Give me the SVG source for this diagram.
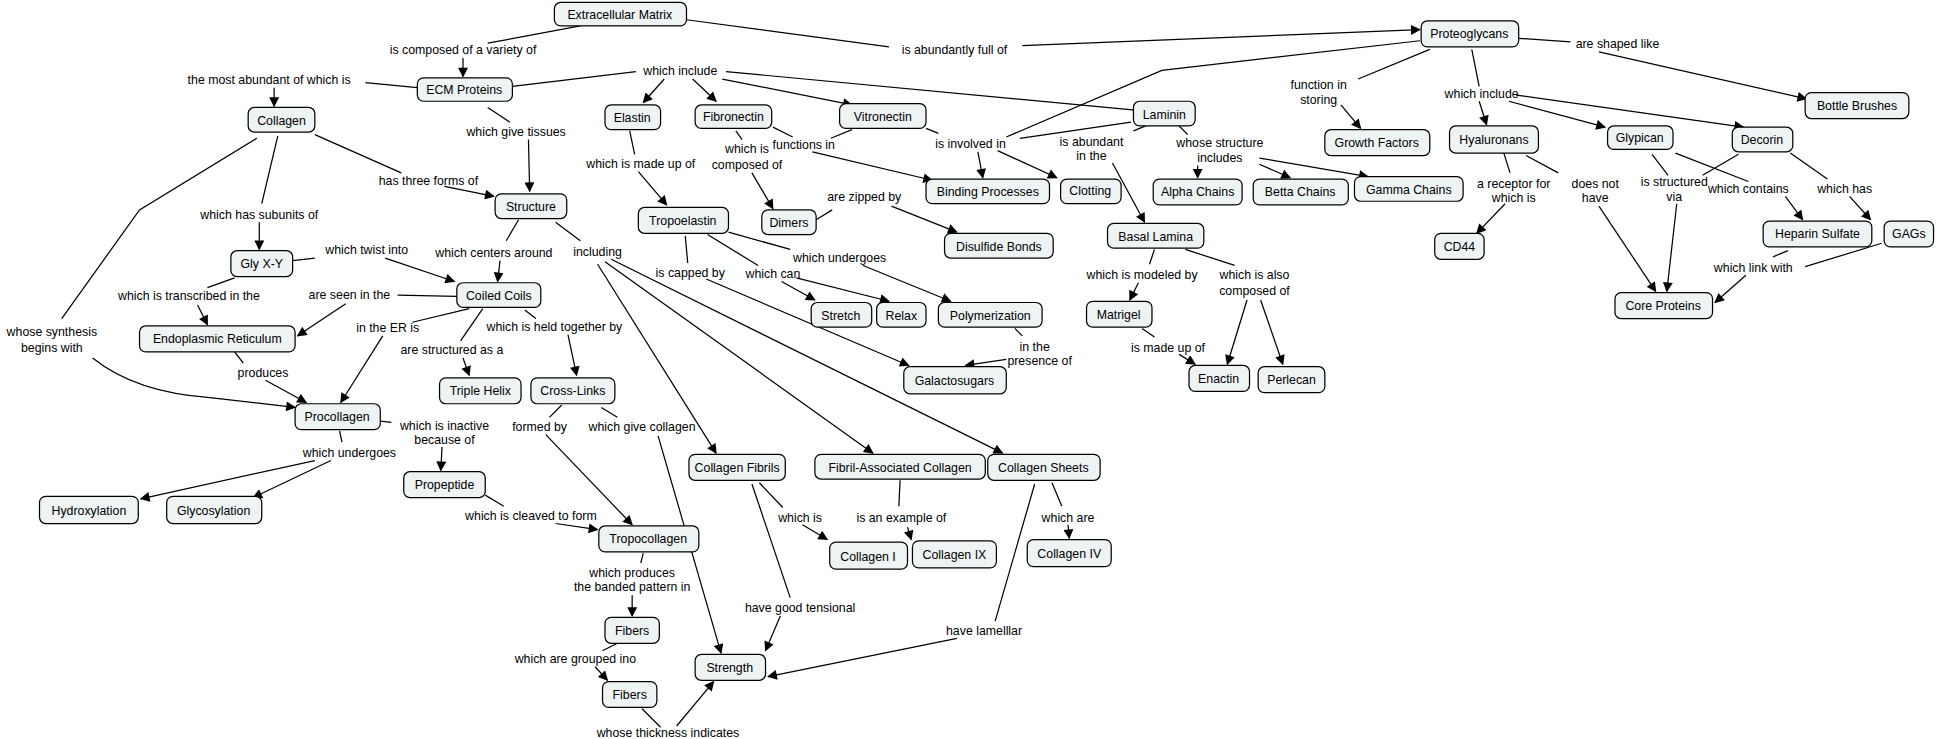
<svg xmlns="http://www.w3.org/2000/svg" width="1936" height="739" viewBox="0 0 1936 739">
<defs>
<marker id="ar" viewBox="0 0 10 10" refX="9" refY="5" markerWidth="10" markerHeight="8" markerUnits="userSpaceOnUse" orient="auto"><path d="M0,0 L10,5 L0,10 z" fill="#000"/></marker>
<style>
.n rect{fill:#eef3f4;stroke:#000;stroke-width:1}
text{font-family:"Liberation Sans",Arial,sans-serif;font-size:10px;fill:#000;text-anchor:middle}
#links line,#links polyline,#links path{stroke:#000;stroke-width:1;fill:none}
#links .a{marker-end:url(#ar)}
</style>
</defs>
<rect width="1936" height="739" fill="#fff"/>
<g transform="scale(1.2347)">
<g id="links">
<line x1="470" y1="21" x2="395" y2="35"/><line class="a" x1="375" y1="47" x2="375" y2="62"/>
<line x1="556" y1="16" x2="720" y2="38"/><line class="a" x1="828" y1="37" x2="1150" y2="24"/>
<line x1="338" y1="71" x2="296" y2="67"/><line class="a" x1="222" y1="71" x2="222" y2="86"/>
<line x1="415" y1="70" x2="515" y2="58"/><line class="a" x1="538" y1="64" x2="521" y2="83"/><line class="a" x1="561" y1="64" x2="580" y2="82"/><line class="a" x1="585" y1="64" x2="690" y2="85"/><line class="a" x1="588" y1="58" x2="928" y2="90"/>
<line x1="395" y1="87" x2="413" y2="99"/><line class="a" x1="428" y1="113" x2="429" y2="155"/>
<line x1="255" y1="109" x2="325" y2="140"/><line class="a" x1="360" y1="151" x2="400" y2="159"/>
<line x1="225" y1="110" x2="212" y2="165"/><line class="a" x1="210" y1="180" x2="210" y2="202"/>
<polyline points="208,112 113,170 50,258"/><path class="a" d="M75,290 Q110,318 170,322 L239,330"/>
<line x1="237" y1="211" x2="255" y2="209"/><line class="a" x1="312" y1="209" x2="368" y2="228"/>
<line x1="190" y1="225" x2="168" y2="233"/><line class="a" x1="160" y1="247" x2="168" y2="263"/>
<line x1="370" y1="240" x2="322" y2="239"/><line class="a" x1="280" y1="246" x2="241" y2="272"/>
<line x1="190" y1="285" x2="197" y2="294"/><line class="a" x1="215" y1="308" x2="248" y2="326"/>
<line x1="380" y1="250" x2="334" y2="261"/><line class="a" x1="310" y1="272" x2="276" y2="326"/>
<line x1="391" y1="250" x2="373" y2="276"/><line class="a" x1="375" y1="290" x2="380" y2="304"/>
<line x1="425" y1="251" x2="434" y2="258"/><line class="a" x1="460" y1="271" x2="467" y2="304"/>
<line x1="420" y1="178" x2="410" y2="195"/><line class="a" x1="405" y1="211" x2="403" y2="228"/>
<line x1="450" y1="180" x2="470" y2="195"/><line class="a" x1="484" y1="214" x2="580" y2="367"/><line class="a" x1="490" y1="212" x2="707" y2="367"/><line class="a" x1="495" y1="210" x2="812" y2="367"/>
<line x1="510" y1="106" x2="514" y2="125"/><line class="a" x1="517" y1="139" x2="540" y2="166"/>
<line x1="596" y1="106" x2="601" y2="113"/><line class="a" x1="609" y1="140" x2="626" y2="169"/>
<line x1="626" y1="103" x2="642" y2="111"/><line x1="690" y1="105" x2="673" y2="112"/><line class="a" x1="658" y1="123" x2="755" y2="146"/>
<line x1="750" y1="104" x2="760" y2="108"/><line class="a" x1="792" y1="123" x2="796" y2="144"/><line class="a" x1="808" y1="122" x2="856" y2="144"/>
<line x1="916" y1="99" x2="826" y2="112"/><polyline points="1150,33 941,57 815,111"/>
<line x1="928" y1="102" x2="918" y2="106"/><line class="a" x1="901" y1="132" x2="927" y2="180"/>
<line x1="955" y1="102" x2="962" y2="109"/><line class="a" x1="970" y1="134" x2="970" y2="144"/><line class="a" x1="1020" y1="133" x2="1045" y2="144"/><line class="a" x1="1020" y1="128" x2="1108" y2="143"/>
<line x1="661" y1="178" x2="674" y2="170"/><line class="a" x1="722" y1="167" x2="775" y2="188"/>
<line x1="590" y1="188" x2="640" y2="202"/><line class="a" x1="699" y1="215" x2="770" y2="244"/>
<line x1="555" y1="191" x2="557" y2="213"/><line class="a" x1="572" y1="226" x2="736" y2="296"/>
<line x1="573" y1="190" x2="614" y2="215"/><line class="a" x1="633" y1="228" x2="660" y2="243"/><line class="a" x1="645" y1="225" x2="720" y2="244"/>
<line x1="822" y1="266" x2="828" y2="272"/><line class="a" x1="815" y1="291" x2="782" y2="296"/>
<line x1="935" y1="202" x2="931" y2="214"/><line class="a" x1="922" y1="229" x2="915" y2="243"/>
<line x1="960" y1="202" x2="1000" y2="215"/><line class="a" x1="1010" y1="243" x2="994" y2="295"/><line class="a" x1="1021" y1="243" x2="1039" y2="295"/>
<line x1="925" y1="266" x2="935" y2="273"/><line class="a" x1="955" y1="287" x2="968" y2="295"/>
<line x1="1158" y1="40" x2="1100" y2="64"/><line class="a" x1="1086" y1="85" x2="1102" y2="104"/>
<line x1="1192" y1="40" x2="1198" y2="70"/><line class="a" x1="1198" y1="82" x2="1204" y2="101"/><line class="a" x1="1222" y1="82" x2="1300" y2="103"/><line class="a" x1="1228" y1="77" x2="1412" y2="103"/>
<line x1="1230" y1="31" x2="1272" y2="34"/><line class="a" x1="1295" y1="42" x2="1463" y2="80"/>
<line x1="1218" y1="124" x2="1223" y2="140"/><line class="a" x1="1219" y1="165" x2="1196" y2="189"/>
<line x1="1236" y1="126" x2="1262" y2="140"/><line class="a" x1="1295" y1="167" x2="1341" y2="236"/>
<line x1="1338" y1="125" x2="1351" y2="142"/><line x1="1408" y1="125" x2="1379" y2="142"/><line class="a" x1="1358" y1="165" x2="1350" y2="236"/>
<line x1="1357" y1="124" x2="1416" y2="147"/><line class="a" x1="1446" y1="159" x2="1460" y2="178"/>
<line x1="1450" y1="124" x2="1480" y2="145"/><line class="a" x1="1498" y1="159" x2="1515" y2="178"/>
<line x1="1448" y1="203" x2="1436" y2="208"/><line x1="1524" y1="197" x2="1462" y2="216"/><line class="a" x1="1414" y1="223" x2="1389" y2="245"/>
<line x1="308" y1="341" x2="317" y2="342"/><line class="a" x1="358" y1="362" x2="357" y2="381"/>
<line x1="275" y1="349" x2="277" y2="358"/><line class="a" x1="255" y1="373" x2="114" y2="404"/><line class="a" x1="268" y1="373" x2="205" y2="403"/>
<line x1="393" y1="401" x2="408" y2="410"/><line class="a" x1="450" y1="424" x2="484" y2="429"/>
<line x1="455" y1="328" x2="445" y2="338"/><line class="a" x1="442" y1="352" x2="512" y2="425"/>
<line x1="487" y1="330" x2="500" y2="338"/><line class="a" x1="533" y1="353" x2="584" y2="529"/>
<line x1="521" y1="448" x2="519" y2="456"/><line class="a" x1="512" y1="482" x2="512" y2="499"/>
<line x1="500" y1="521" x2="488" y2="527"/><line class="a" x1="482" y1="540" x2="492" y2="551"/>
<line x1="520" y1="574" x2="535" y2="589"/><line class="a" x1="548" y1="588" x2="578" y2="552"/>
<line x1="615" y1="391" x2="634" y2="411"/><line class="a" x1="650" y1="425" x2="670" y2="437"/>
<line x1="729" y1="389" x2="728" y2="410"/><line class="a" x1="735" y1="427" x2="738" y2="437"/>
<line x1="852" y1="391" x2="860" y2="410"/><line class="a" x1="865" y1="425" x2="866" y2="436"/>
<line x1="609" y1="392" x2="640" y2="484"/><line class="a" x1="632" y1="499" x2="620" y2="527"/>
<line x1="838" y1="392" x2="806" y2="503"/><line class="a" x1="775" y1="517" x2="622" y2="548"/>
</g>
<g id="labels">
<text x="375" y="44">is composed of a variety of</text>
<text x="773" y="44">is abundantly full of</text>
<text x="218" y="68">the most abundant of which is</text>
<text x="551" y="61">which include</text>
<text x="418" y="110">which give tissues</text>
<text x="347" y="150">has three forms of</text>
<text x="210" y="177">which has subunits of</text>
<text x="42" y="272">whose synthesis</text><text x="42" y="285">begins with</text>
<text x="297" y="206">which twist into</text>
<text x="153" y="243">which is transcribed in the</text>
<text x="283" y="242">are seen in the</text>
<text x="213" y="305">produces</text>
<text x="314" y="269">in the ER is</text>
<text x="366" y="287">are structured as a</text>
<text x="449" y="268">which is held together by</text>
<text x="400" y="208">which centers around</text>
<text x="484" y="207">including</text>
<text x="519" y="136">which is made up of</text>
<text x="605" y="124">which is</text><text x="605" y="137">composed of</text>
<text x="651" y="121">functions in</text>
<text x="786" y="120">is involved in</text>
<text x="884" y="118">is abundant</text><text x="884" y="130">in the</text>
<text x="988" y="119">whose structure</text><text x="988" y="131">includes</text>
<text x="700" y="163">are zipped by</text>
<text x="680" y="212">which undergoes</text>
<text x="559" y="224">is capped by</text>
<text x="626" y="225">which can</text>
<text x="838" y="284">in the</text><text x="842" y="296">presence of</text>
<text x="925" y="226">which is modeled by</text>
<text x="1016" y="226">which is also</text><text x="1016" y="239">composed of</text>
<text x="946" y="285">is made up of</text>
<text x="1068" y="72">function in</text><text x="1068" y="84">storing</text>
<text x="1200" y="79">which include</text>
<text x="1310" y="39">are shaped like</text>
<text x="1226" y="152">a receptor for</text><text x="1226" y="164">which is</text>
<text x="1292" y="152">does not</text><text x="1292" y="164">have</text>
<text x="1356" y="151">is structured</text><text x="1356" y="163">via</text>
<text x="1416" y="156">which contains</text>
<text x="1494" y="156">which has</text>
<text x="1420" y="220">which link with</text>
<text x="360" y="348">which is inactive</text><text x="360" y="360">because of</text>
<text x="283" y="370">which undergoes</text>
<text x="430" y="421">which is cleaved to form</text>
<text x="437" y="349">formed by</text>
<text x="520" y="349">which give collagen</text>
<text x="512" y="467">which produces</text><text x="512" y="479">the banded pattern in</text>
<text x="466" y="537">which are grouped ino</text>
<text x="541" y="597">whose thickness indicates</text>
<text x="648" y="423">which is</text>
<text x="730" y="423">is an example of</text>
<text x="865" y="423">which are</text>
<text x="648" y="496">have good tensional</text>
<text x="797" y="514">have lamelllar</text>
</g>
<g id="n-em" class="n"><rect x="449" y="2" width="107" height="19" rx="5"/><text x="502" y="15">Extracellular Matrix</text></g>
<g id="n-pg" class="n"><rect x="1151" y="17" width="79" height="21" rx="5"/><text x="1190" y="31">Proteoglycans</text></g>
<g id="n-ecm" class="n"><rect x="338" y="63" width="77" height="19" rx="5"/><text x="376" y="76">ECM Proteins</text></g>
<g id="n-collagen" class="n"><rect x="201" y="87" width="54" height="20" rx="5"/><text x="228" y="101">Collagen</text></g>
<g id="n-elastin" class="n"><rect x="490" y="85" width="45" height="20" rx="5"/><text x="512" y="99">Elastin</text></g>
<g id="n-fibronectin" class="n"><rect x="563" y="85" width="62" height="19" rx="5"/><text x="594" y="98">Fibronectin</text></g>
<g id="n-vitronectin" class="n"><rect x="680" y="84" width="70" height="20" rx="5"/><text x="715" y="98">Vitronectin</text></g>
<g id="n-laminin" class="n"><rect x="918" y="82" width="50" height="20" rx="5"/><text x="943" y="96">Laminin</text></g>
<g id="n-bottle" class="n"><rect x="1462" y="75" width="84" height="21" rx="5"/><text x="1504" y="89">Bottle Brushes</text></g>
<g id="n-growth" class="n"><rect x="1073" y="105" width="85" height="21" rx="5"/><text x="1115" y="119">Growth Factors</text></g>
<g id="n-hyal" class="n"><rect x="1174" y="102" width="72" height="22" rx="5"/><text x="1210" y="117">Hyaluronans</text></g>
<g id="n-glypican" class="n"><rect x="1302" y="102" width="53" height="19" rx="5"/><text x="1328" y="115">Glypican</text></g>
<g id="n-decorin" class="n"><rect x="1403" y="103" width="49" height="20" rx="5"/><text x="1427" y="117">Decorin</text></g>
<g id="n-structure" class="n"><rect x="401" y="157" width="58" height="20" rx="5"/><text x="430" y="171">Structure</text></g>
<g id="n-tropoelastin" class="n"><rect x="517" y="168" width="73" height="21" rx="5"/><text x="553" y="182">Tropoelastin</text></g>
<g id="n-dimers" class="n"><rect x="617" y="170" width="44" height="20" rx="5"/><text x="639" y="184">Dimers</text></g>
<g id="n-binding" class="n"><rect x="750" y="145" width="100" height="20" rx="5"/><text x="800" y="159">Binding Processes</text></g>
<g id="n-clotting" class="n"><rect x="859" y="145" width="49" height="20" rx="5"/><text x="883" y="158">Clotting</text></g>
<g id="n-alpha" class="n"><rect x="934" y="145" width="72" height="21" rx="5"/><text x="970" y="159">Alpha Chains</text></g>
<g id="n-betta" class="n"><rect x="1015" y="145" width="77" height="21" rx="5"/><text x="1053" y="159">Betta Chains</text></g>
<g id="n-gamma" class="n"><rect x="1097" y="143" width="88" height="20" rx="5"/><text x="1141" y="157">Gamma Chains</text></g>
<g id="n-basal" class="n"><rect x="897" y="181" width="78" height="20" rx="5"/><text x="936" y="195">Basal Lamina</text></g>
<g id="n-disulfide" class="n"><rect x="765" y="189" width="88" height="20" rx="5"/><text x="809" y="203">Disulfide Bonds</text></g>
<g id="n-heparin" class="n"><rect x="1428" y="179" width="88" height="21" rx="5"/><text x="1472" y="193">Heparin Sulfate</text></g>
<g id="n-gags" class="n"><rect x="1526" y="179" width="40" height="21" rx="5"/><text x="1546" y="193">GAGs</text></g>
<g id="n-cd44" class="n"><rect x="1162" y="189" width="40" height="21" rx="5"/><text x="1182" y="203">CD44</text></g>
<g id="n-gly" class="n"><rect x="187" y="203" width="50" height="21" rx="5"/><text x="212" y="217">Gly X-Y</text></g>
<g id="n-coiled" class="n"><rect x="370" y="229" width="68" height="20" rx="5"/><text x="404" y="243">Coiled Coils</text></g>
<g id="n-core" class="n"><rect x="1308" y="237" width="79" height="21" rx="5"/><text x="1347" y="251">Core Proteins</text></g>
<g id="n-er" class="n"><rect x="113" y="264" width="126" height="21" rx="5"/><text x="176" y="278">Endoplasmic Reticulum</text></g>
<g id="n-stretch" class="n"><rect x="657" y="245" width="49" height="20" rx="5"/><text x="681" y="259">Stretch</text></g>
<g id="n-relax" class="n"><rect x="710" y="245" width="40" height="20" rx="5"/><text x="730" y="259">Relax</text></g>
<g id="n-poly" class="n"><rect x="760" y="245" width="84" height="20" rx="5"/><text x="802" y="259">Polymerization</text></g>
<g id="n-matrigel" class="n"><rect x="880" y="244" width="53" height="21" rx="5"/><text x="906" y="258">Matrigel</text></g>
<g id="n-triple" class="n"><rect x="356" y="306" width="66" height="21" rx="5"/><text x="389" y="320">Triple Helix</text></g>
<g id="n-cross" class="n"><rect x="430" y="306" width="68" height="21" rx="5"/><text x="464" y="320">Cross-Links</text></g>
<g id="n-galacto" class="n"><rect x="732" y="297" width="83" height="22" rx="5"/><text x="773" y="312">Galactosugars</text></g>
<g id="n-enactin" class="n"><rect x="963" y="296" width="49" height="21" rx="5"/><text x="987" y="310">Enactin</text></g>
<g id="n-perlecan" class="n"><rect x="1019" y="297" width="54" height="21" rx="5"/><text x="1046" y="311">Perlecan</text></g>
<g id="n-procollagen" class="n"><rect x="239" y="327" width="69" height="21" rx="5"/><text x="273" y="341">Procollagen</text></g>
<g id="n-propeptide" class="n"><rect x="327" y="382" width="66" height="21" rx="5"/><text x="360" y="396">Propeptide</text></g>
<g id="n-hydrox" class="n"><rect x="32" y="402" width="80" height="22" rx="5"/><text x="72" y="417">Hydroxylation</text></g>
<g id="n-glycos" class="n"><rect x="135" y="402" width="77" height="22" rx="5"/><text x="173" y="417">Glycosylation</text></g>
<g id="n-tropocollagen" class="n"><rect x="485" y="426" width="81" height="21" rx="5"/><text x="525" y="440">Tropocollagen</text></g>
<g id="n-fibrils" class="n"><rect x="558" y="368" width="78" height="21" rx="5"/><text x="597" y="382">Collagen Fibrils</text></g>
<g id="n-fac" class="n"><rect x="660" y="368" width="138" height="20" rx="5"/><text x="729" y="382">Fibril-Associated Collagen</text></g>
<g id="n-sheets" class="n"><rect x="800" y="368" width="91" height="21" rx="5"/><text x="845" y="382">Collagen Sheets</text></g>
<g id="n-c1" class="n"><rect x="672" y="439" width="63" height="22" rx="5"/><text x="703" y="454">Collagen I</text></g>
<g id="n-c9" class="n"><rect x="739" y="438" width="68" height="22" rx="5"/><text x="773" y="453">Collagen IX</text></g>
<g id="n-c4" class="n"><rect x="832" y="437" width="68" height="22" rx="5"/><text x="866" y="452">Collagen IV</text></g>
<g id="n-fibers1" class="n"><rect x="490" y="500" width="44" height="21" rx="5"/><text x="512" y="514">Fibers</text></g>
<g id="n-strength" class="n"><rect x="563" y="530" width="57" height="21" rx="5"/><text x="591" y="544">Strength</text></g>
<g id="n-fibers2" class="n"><rect x="488" y="552" width="44" height="21" rx="5"/><text x="510" y="566">Fibers</text></g>
</g>
</svg>
